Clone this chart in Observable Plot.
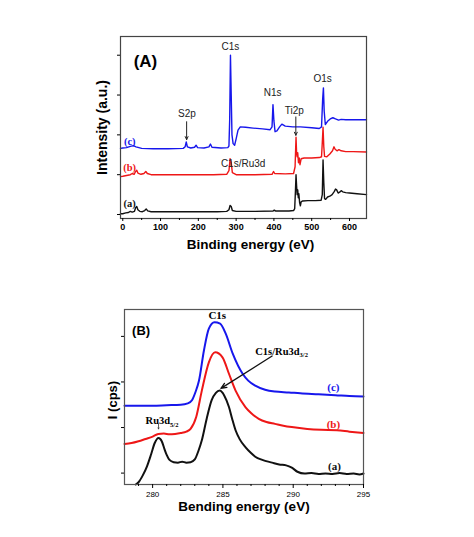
<!DOCTYPE html>
<html>
<head>
<meta charset="utf-8">
<script src="https://cdn.jsdelivr.net/npm/d3@7"></script>
<script src="https://cdn.jsdelivr.net/npm/@observablehq/plot@0.6"></script>
<style>
  html, body { margin: 0; padding: 0; background: #fff; }
  #chart { position: relative; width: 474px; height: 537px; overflow: hidden; }
  #chart svg { position: absolute; left: 0; }
</style>
</head>
<body>
<div id="chart"></div>
<script>
// XPS survey spectra, [binding energy (eV), intensity (a.u., offset)]
const surveyA = [[-6,0.02],[0,0.02],[8,0.04],[15,0.05],[20,0.08],[25,0.06],[31,0.08],[34,0.17],[37,0.2],[40,0.12],[45,0.08],[52,0.07],[58,0.1],[62,0.14],[66,0.09],[75,0.07],[100,0.07],[150,0.07],[200,0.07],[250,0.07],[275,0.08],[281,0.12],[284,0.23],[287,0.2],[290,0.1],[300,0.08],[350,0.08],[398,0.09],[401,0.11],[404,0.09],[440,0.09],[452,0.1],[455,0.15],[457,0.6],[458.5,1.0],[460,0.72],[461.5,0.5],[463,0.62],[464.5,0.42],[466,0.52],[468,0.3],[470,0.22],[472,0.32],[476,0.34],[490,0.35],[510,0.35],[525,0.36],[528,0.5],[530,1.37],[532,0.8],[534,0.4],[537,0.38],[542,0.44],[548,0.46],[554,0.5],[560,0.58],[563,0.64],[566,0.62],[570,0.54],[574,0.56],[578,0.6],[582,0.57],[590,0.55],[600,0.54],[620,0.52],[645,0.5]];
const surveyB = [[-6,0.95],[0,0.96],[10,0.98],[20,1.0],[25,1.03],[30,1.01],[34,1.08],[37,1.11],[40,1.04],[48,1.01],[56,1.03],[61,1.08],[65,1.03],[75,1.0],[120,1.0],[180,1.0],[240,1.0],[275,1.01],[281,1.1],[284,1.4],[287,1.3],[290,1.05],[300,1.0],[350,1.0],[395,1.01],[399,1.08],[402,1.03],[430,1.02],[452,1.03],[456,1.2],[458.5,1.94],[460,1.55],[461.5,1.45],[463,1.55],[465,1.3],[467,1.42],[469,1.25],[472,1.4],[480,1.42],[500,1.42],[520,1.43],[526,1.45],[528,1.8],[530,2.19],[532,1.7],[534,1.46],[540,1.45],[548,1.52],[555,1.6],[559,1.7],[562,1.64],[567,1.6],[572,1.63],[578,1.6],[590,1.58],[610,1.58],[645,1.57]];
const surveyC = [[-6,1.66],[0,1.67],[10,1.68],[20,1.71],[28,1.73],[35,1.7],[50,1.66],[80,1.65],[120,1.65],[160,1.66],[165,1.7],[168,1.82],[171,1.7],[180,1.67],[190,1.69],[194,1.74],[198,1.68],[215,1.67],[228,1.7],[232,1.77],[236,1.69],[260,1.67],[278,1.68],[281,1.72],[283,2.4],[285,4.0],[287,3.0],[289,2.0],[292,1.78],[296,1.74],[300,1.9],[305,2.12],[311,2.2],[325,2.19],[345,2.17],[370,2.15],[390,2.13],[395,2.2],[397.5,2.76],[400,2.35],[403,2.08],[408,2.1],[415,2.2],[421,2.27],[430,2.22],[450,2.2],[470,2.2],[500,2.18],[520,2.16],[526,2.2],[529,2.9],[531,3.18],[533,2.6],[536,2.26],[542,2.34],[549,2.4],[556,2.43],[563,2.4],[571,2.37],[578,2.39],[590,2.38],[610,2.38],[645,2.38]];

// High-resolution C1s / Ru3d region, [binding energy (eV), counts (offset)]
const carbonA = [[278.8,-0.25],[279.0,-0.2],[279.3,-0.05],[279.6,0.15],[279.9,0.42],[280.15,0.66],[280.42,0.77],[280.65,0.7],[280.85,0.52],[281.0,0.4],[281.2,0.29],[281.5,0.24],[281.8,0.23],[282.1,0.25],[282.4,0.23],[282.7,0.24],[283.0,0.3],[283.25,0.48],[283.5,0.72],[283.85,1.2],[284.2,1.6],[284.5,1.76],[284.77,1.81],[285.1,1.7],[285.43,1.45],[285.65,1.2],[285.9,0.94],[286.2,0.74],[286.6,0.57],[287.0,0.44],[287.3,0.36],[287.8,0.29],[288.5,0.23],[289.0,0.19],[289.5,0.17],[289.9,0.12],[290.3,0.03],[290.8,-0.01],[291.3,0.0],[291.8,-0.02],[292.3,-0.01],[292.8,-0.02],[293.3,0.0],[293.8,-0.02],[294.3,-0.01],[294.7,-0.03],[295,-0.01]];
const carbonB = [[278,0.64],[278.5,0.66],[279,0.7],[279.5,0.75],[280,0.8],[280.4,0.86],[280.8,0.87],[281.2,0.85],[281.6,0.86],[282,0.88],[282.4,0.91],[282.7,0.97],[283.1,1.23],[283.5,1.81],[284.0,2.43],[284.45,2.65],[284.97,2.54],[285.43,2.18],[285.9,1.81],[286.6,1.45],[287.0,1.32],[287.55,1.19],[288.1,1.12],[288.7,1.08],[289.3,1.04],[289.9,1.01],[291.0,0.97],[292.0,0.95],[293.1,0.94],[294.0,0.91],[295,0.88]];
const carbonC = [[278,1.48],[279,1.48],[280,1.48],[281,1.49],[282,1.5],[282.5,1.53],[282.8,1.6],[283.05,1.78],[283.3,2.03],[283.65,2.69],[284.0,3.17],[284.4,3.31],[284.8,3.28],[285.2,3.06],[285.7,2.62],[286.4,2.18],[286.8,2.03],[287.3,1.92],[288.0,1.83],[288.7,1.79],[289.7,1.77],[290.5,1.75],[291.8,1.73],[293.0,1.71],[294.0,1.69],[295,1.68]];

// Axis ticks
const surveyTicks = [0, 100, 200, 300, 400, 500, 600];
const surveyMinorTicks = [50, 150, 250, 350, 450, 550];
const surveyOffsets = [0, 1, 2, 3, 4];
const carbonTicks = [280, 285, 290, 295];
const carbonMinorTicks = [279, 281, 282, 283, 284, 286, 287, 288, 289, 291, 292, 293, 294];
const carbonOffsets = [0, 1, 2, 3];

const BLUE = "#1717ec";
const RED = "#ee1717";
const BLACK = "#111";
const SANS = "'Liberation Sans', Arial, sans-serif";
const SERIF = "'Liberation Serif', 'Times New Roman', serif";

const ex = d => d[0];
const ey = d => d[1];

// Turn "Ru3d_5/2" into "Ru3d" followed by a lowered, smaller "5/2"
function applySubscripts(svg) {
  d3.select(svg).selectAll("text, tspan").each(function () {
    const node = this.firstChild;
    if (!node || node.nodeType !== 3 || this.childNodes.length !== 1) return;
    const s = node.nodeValue;
    const i = s.indexOf("_");
    if (i < 0) return;
    node.nodeValue = s.slice(0, i);
    d3.select(this).append("tspan")
      .attr("font-size", "0.62em")
      .attr("dy", "0.4em")
      .text(s.slice(i + 1));
  });
}

const chart = document.getElementById("chart");

// Panel (A): survey spectra
const panelA = Plot.plot({
  width: 474,
  height: 270,
  marginLeft: 120,
  marginRight: 108,
  marginTop: 36,
  marginBottom: 52,
  x: { domain: [-6, 645] },
  y: { domain: [-0.1, 4.47] },
  style: { fontFamily: SANS, background: "transparent", color: "#000" },
  marks: [
    Plot.line(surveyA, { x: ex, y: ey, stroke: BLACK, strokeWidth: 1.4 }),
    Plot.line(surveyB, { x: ex, y: ey, stroke: RED, strokeWidth: 1.4 }),
    Plot.line(surveyC, { x: ex, y: ey, stroke: BLUE, strokeWidth: 1.4 }),
    Plot.frame({ stroke: "#444", strokeWidth: 1.2 }),
    Plot.axisX({ ticks: surveyTicks, tickSize: 3, tickPadding: 2, fontSize: 9, fontWeight: "bold", label: null }),
    Plot.axisX({ ticks: surveyMinorTicks, tickSize: 2, tickFormat: () => "", label: null }),
    Plot.axisY({ ticks: surveyOffsets, tickSize: 3, tickFormat: () => "", label: null }),
    Plot.text(["Binding energy (eV)"], { frameAnchor: "bottom", dy: 30, dx: 7, fontSize: 13.5, fontWeight: "bold" }),
    Plot.text(["Intensity (a.u.)"], { frameAnchor: "left", textAnchor: "middle", dx: -18, rotate: -90, fontSize: 14, fontWeight: "bold" }),
    Plot.text([{ t: "(A)", x: 60, y: 3.83 }], { x: "x", y: "y", text: "t", fontSize: 17, fontWeight: "bold" }),
    Plot.text([
      { t: "C1s", x: 285, y: 4.22 },
      { t: "S2p", x: 170, y: 2.53 },
      { t: "N1s", x: 396.5, y: 3.05 },
      { t: "Ti2p", x: 454, y: 2.6 },
      { t: "O1s", x: 529, y: 3.41 },
      { t: "C1s/Ru3d", x: 318.5, y: 1.27 }
    ], { x: "x", y: "y", text: "t", fontSize: 10, fill: "#222" }),
    Plot.arrow([
      { x1: 169, y1: 2.33, x2: 169, y2: 1.88 },
      { x1: 458, y1: 2.45, x2: 458, y2: 1.99 }
    ], { x1: "x1", y1: "y1", x2: "x2", y2: "y2", stroke: "#222", strokeWidth: 1, headLength: 5, headAngle: 50 }),
    Plot.text([
      { t: "(c)", x: 18.5, y: 1.84, c: BLUE },
      { t: "(b)", x: 18, y: 1.19, c: RED },
      { t: "(a)", x: 18, y: 0.28, c: BLACK }
    ], { x: "x", y: "y", text: "t", fill: "c", fontFamily: SERIF, fontWeight: "bold", fontSize: 10.5 })
  ]
});
panelA.style.top = "0px";
chart.appendChild(panelA);

// Panel (B): C1s / Ru3d region
const panelB = Plot.plot({
  width: 474,
  height: 267,
  marginLeft: 124,
  marginRight: 111,
  marginTop: 39,
  marginBottom: 53,
  x: { domain: [278, 295] },
  y: { domain: [-0.25, 3.59] },
  style: { fontFamily: SANS, background: "transparent", color: "#000" },
  marks: [
    Plot.line(carbonA, { x: ex, y: ey, stroke: BLACK, strokeWidth: 2, curve: "monotone-x" }),
    Plot.line(carbonB, { x: ex, y: ey, stroke: RED, strokeWidth: 2, curve: "monotone-x" }),
    Plot.line(carbonC, { x: ex, y: ey, stroke: BLUE, strokeWidth: 2, curve: "monotone-x" }),
    Plot.frame({ stroke: "#555", strokeWidth: 1.2 }),
    Plot.axisX({ ticks: carbonTicks, tickSize: 4, tickPadding: 3, fontSize: 8, label: null }),
    Plot.axisX({ ticks: carbonMinorTicks, tickSize: 2, tickFormat: () => "", label: null }),
    Plot.axisY({ ticks: carbonOffsets, tickSize: 3, tickFormat: () => "", label: null }),
    Plot.text(["Bending energy (eV)"], { frameAnchor: "bottom", dy: 26, fontSize: 13.5, fontWeight: "bold" }),
    Plot.text(["I (cps)"], { frameAnchor: "left", textAnchor: "middle", dx: -12, dy: 3, rotate: -90, fontSize: 13, fontWeight: "bold" }),
    Plot.text([{ t: "(B)", x: 279.18, y: 3.13 }], { x: "x", y: "y", text: "t", fontSize: 13, fontWeight: "bold" }),
    Plot.text([
      { t: "C1s", x: 284.6, y: 3.45 }
    ], { x: "x", y: "y", text: "t", fontFamily: SERIF, fontWeight: "bold", fontSize: 11 }),
    Plot.text([
      { t: "C1s/Ru3d_3/2", x: 287.3, y: 2.67 },
      { t: "Ru3d_5/2", x: 279.5, y: 1.15 }
    ], { x: "x", y: "y", text: "t", textAnchor: "start", fontFamily: SERIF, fontWeight: "bold", fontSize: 10.5 }),
    Plot.arrow([{ x1: 288.5, y1: 2.57, x2: 284.86, y2: 1.86 }],
      { x1: "x1", y1: "y1", x2: "x2", y2: "y2", stroke: "#111", strokeWidth: 1.3, headLength: 7, headAngle: 45 }),
    Plot.arrow([{ x1: 280.42, y1: 1.07, x2: 280.42, y2: 0.97 }],
      { x1: "x1", y1: "y1", x2: "x2", y2: "y2", stroke: "#333", strokeWidth: 0.8, headLength: 2 }),
    Plot.text([
      { t: "(c)", x: 292.86, y: 1.87, c: BLUE },
      { t: "(b)", x: 292.86, y: 1.06, c: RED },
      { t: "(a)", x: 292.93, y: 0.15, c: BLACK }
    ], { x: "x", y: "y", text: "t", fill: "c", fontFamily: SERIF, fontWeight: "bold", fontSize: 11 })
  ]
});
applySubscripts(panelB);
panelB.style.top = "270px";
chart.appendChild(panelB);
</script>
</body>
</html>
